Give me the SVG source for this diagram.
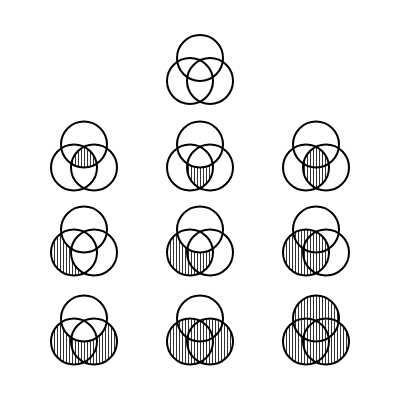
<svg xmlns="http://www.w3.org/2000/svg" width="400" height="400" viewBox="0 0 400 400">
<style>
.o{fill:none;stroke:#000;stroke-width:2}
.h{fill:url(#hatch);stroke:none}
</style>
<defs>
<pattern id="hatch" patternUnits="userSpaceOnUse" width="3" height="3">
<rect x="0" y="0" width="1" height="3" fill="#333"/>
</pattern>
<clipPath id="cA"><circle cx="0" cy="-11.5" r="23"/></clipPath>
<clipPath id="cB"><circle cx="-10" cy="11.5" r="23"/></clipPath>
<mask id="nA" maskUnits="userSpaceOnUse" x="-50" y="-50" width="100" height="100">
<rect x="-50" y="-50" width="100" height="100" fill="#fff"/>
<circle cx="0" cy="-11.5" r="23" fill="#000"/>
</mask>
<mask id="nAC" maskUnits="userSpaceOnUse" x="-50" y="-50" width="100" height="100">
<rect x="-50" y="-50" width="100" height="100" fill="#fff"/>
<circle cx="0" cy="-11.5" r="23" fill="#000"/>
<circle cx="10" cy="11.5" r="23" fill="#000"/>
</mask>
<g id="venn">
<circle class="o" cx="0" cy="-11.5" r="23"/>
<circle class="o" cx="-10" cy="11.5" r="23"/>
<circle class="o" cx="10" cy="11.5" r="23"/>
</g>
</defs>
<g id="d0" transform="translate(200,69.5)">
<use href="#venn"/>
</g>
<g id="d1" transform="translate(84,156)">
<g clip-path="url(#cA)"><g clip-path="url(#cB)"><circle class="h" cx="10" cy="11.5" r="23"/></g></g>
<use href="#venn"/>
</g>
<g id="d2" transform="translate(200,156)">
<g mask="url(#nA)"><g clip-path="url(#cB)"><circle class="h" cx="10" cy="11.5" r="23"/></g></g>
<use href="#venn"/>
</g>
<g id="d3" transform="translate(316,156)">
<g clip-path="url(#cB)"><circle class="h" cx="10" cy="11.5" r="23"/></g>
<use href="#venn"/>
</g>
<g id="d4" transform="translate(84,241)">
<circle class="h" cx="-10" cy="11.5" r="23" mask="url(#nAC)"/>
<use href="#venn"/>
</g>
<g id="d5" transform="translate(200,241)">
<circle class="h" cx="-10" cy="11.5" r="23" mask="url(#nA)"/>
<use href="#venn"/>
</g>
<g id="d6" transform="translate(316,241)">
<circle class="h" cx="-10" cy="11.5" r="23"/>
<use href="#venn"/>
</g>
<g id="d7" transform="translate(84,330)">
<g mask="url(#nA)"><circle class="h" cx="-10" cy="11.5" r="23"/><circle class="h" cx="10" cy="11.5" r="23"/></g>
<use href="#venn"/>
</g>
<g id="d8" transform="translate(200,330)">
<circle class="h" cx="-10" cy="11.5" r="23"/><circle class="h" cx="10" cy="11.5" r="23"/>
<use href="#venn"/>
</g>
<g id="d9" transform="translate(316,330)">
<circle class="h" cx="0" cy="-11.5" r="23"/><circle class="h" cx="-10" cy="11.5" r="23"/><circle class="h" cx="10" cy="11.5" r="23"/>
<use href="#venn"/>
</g>
</svg>
